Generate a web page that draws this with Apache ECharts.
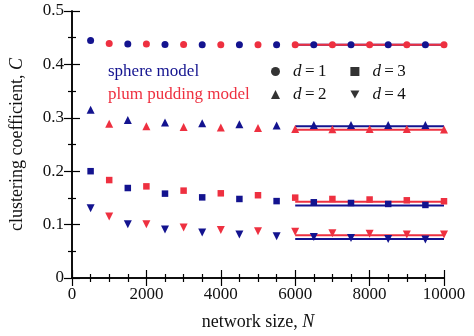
<!DOCTYPE html>
<html>
<head>
<meta charset="utf-8">
<script src="https://cdn.jsdelivr.net/npm/echarts@6/dist/echarts.min.js"></script>
<style>html,body{margin:0;padding:0;background:#fff}#c{width:474px;height:336px}</style>
</head>
<body>
<div id="c"></div>
<script>
// ---- data ----
var sphereN = [500, 1500, 2500, 3500, 4500, 5500, 6500, 7500, 8500, 9500];
var plumN = [1000, 2000, 3000, 4000, 5000, 6000, 7000, 8000, 9000, 10000];

var sphereD1 = [0.4446, 0.438, 0.4375, 0.4366, 0.4366, 0.4366, 0.4366, 0.4366, 0.4366, 0.4366];
var sphereD2 = [0.315, 0.296, 0.291, 0.290, 0.288, 0.2854, 0.2867, 0.2867, 0.2867, 0.2867];
var sphereD3 = [0.200, 0.1685, 0.158, 0.151, 0.148, 0.144, 0.1418, 0.1405, 0.1387, 0.1368];
var sphereD4 = [0.1306, 0.1007, 0.0908, 0.0852, 0.0815, 0.078, 0.077, 0.075, 0.0728, 0.072];

var plumD1 = [0.439, 0.438, 0.4371, 0.4366, 0.4366, 0.4366, 0.4366, 0.4366, 0.4366, 0.4366];
var plumD2 = [0.289, 0.284, 0.283, 0.2817, 0.281, 0.279, 0.2786, 0.279, 0.279, 0.278];
var plumD3 = [0.1834, 0.1716, 0.1636, 0.1586, 0.155, 0.1505, 0.148, 0.147, 0.1455, 0.1437];
var plumD4 = [0.115, 0.1007, 0.0945, 0.090, 0.0877, 0.0864, 0.084, 0.0828, 0.0815, 0.0815];

var fitRange = [6000, 10000];
var sphereFit = [0.4366, 0.284, 0.136, 0.0728];
var plumFit = [0.4366, 0.2774, 0.143, 0.080];

var dimNames = ['d=1', 'd=2', 'd=3', 'd=4'];
var modelNames = ['sphere model', 'plum pudding model'];
var xTickLabels = ['0', '2000', '4000', '6000', '8000', '10000'];
var yTickLabels = ['0', '0.1', '0.2', '0.3', '0.4', '0.5'];

// ---- styling ----
var BLUE = '#13138f';
var RED = '#ee3040';
var FONT = 'Liberation Serif';
var downTri = 'path://M0,0 L10,0 L5,8.66 Z';
var symbols = ['circle', 'triangle', 'rect', downTri];
var sizes = [7, 8, 6.5, 8];

function pairs(xs, ys) { return xs.map(function (x, i) { return [x, ys[i]]; }); }

var sphereSets = [sphereD1, sphereD2, sphereD3, sphereD4];
var plumSets = [plumD1, plumD2, plumD3, plumD4];

var series = [];
// fit lines
sphereFit.forEach(function (v) {
  series.push({ type: 'line', data: [[fitRange[0], v], [fitRange[1], v]], symbol: 'none',
    lineStyle: { color: BLUE, width: 2 }, silent: true, z: 2 });
});
plumFit.forEach(function (v) {
  series.push({ type: 'line', data: [[fitRange[0], v], [fitRange[1], v]], symbol: 'none',
    lineStyle: { color: RED, width: 2 }, silent: true, z: 3 });
});
// points
for (var k = 0; k < 4; k++) {
  series.push({ type: 'scatter', data: pairs(sphereN, sphereSets[k]), symbol: symbols[k],
    symbolSize: sizes[k], itemStyle: { color: BLUE, opacity: 1 }, z: 4 });
  series.push({ type: 'scatter', data: pairs(plumN, plumSets[k]), symbol: symbols[k],
    symbolSize: sizes[k], itemStyle: { color: RED, opacity: 1 }, z: 4 });
}
// legend dummies
for (var k2 = 0; k2 < 4; k2++) {
  series.push({ type: 'scatter', name: dimNames[k2], data: [], symbol: symbols[k2],
    itemStyle: { color: '#000' } });
}

var legendText = {
  fontFamily: FONT, fontSize: 17, color: '#111', padding: [0, 0, 0, 8],
  rich: { i: { fontFamily: FONT, fontSize: 17, fontStyle: 'italic', color: '#111' },
          n: { fontFamily: FONT, fontSize: 17, color: '#111' } }
};
function legendFmt(name) { return '{i|d}{n|\u2009=\u2009' + name.split('=')[1] + '}'; }

var axisCommon = {
  min: 0,
  axisLine: { lineStyle: { color: '#000', width: 1.5 } },
  axisTick: { inside: true, length: 8, lineStyle: { color: '#000', width: 1.2 } },
  minorTick: { show: true, splitNumber: 4, length: 4, lineStyle: { color: '#000', width: 1.2 } },
  splitLine: { show: false }
};

var option = {
  animation: false,
  backgroundColor: '#fff',
  grid: { left: 72, right: 30, top: 11, bottom: 57 },
  xAxis: [
    Object.assign({}, axisCommon, {
      type: 'value', max: 10000, interval: 2000, position: 'bottom',
      axisLabel: { fontFamily: FONT, fontSize: 17, color: '#111', margin: 8,
        formatter: function (v) { return xTickLabels[Math.round(v / 2000)]; } },
      name: 'network size, {i|N}', nameLocation: 'middle', nameGap: 35,
      nameTextStyle: { fontFamily: FONT, fontSize: 18, color: '#111',
        rich: { i: { fontFamily: FONT, fontSize: 18, fontStyle: 'italic', color: '#111' } } }
    }),
    Object.assign({}, axisCommon, {
      type: 'value', max: 10000, interval: 2000, position: 'top',
      axisLabel: { show: false }
    })
  ],
  yAxis: [
    Object.assign({}, axisCommon, {
      type: 'value', max: 0.5, interval: 0.1, position: 'left',
      minorTick: Object.assign({}, axisCommon.minorTick, { splitNumber: 2 }),
      axisLabel: { fontFamily: FONT, fontSize: 17, color: '#111', margin: 8,
        formatter: function (v) { return yTickLabels[Math.round(v * 10)]; } },
      name: 'clustering coefficient, {i|C}', nameLocation: 'middle', nameGap: 46,
      nameTextStyle: { fontFamily: FONT, fontSize: 18, color: '#111',
        rich: { i: { fontFamily: FONT, fontSize: 18, fontStyle: 'italic', color: '#111' } } }
    }),
    Object.assign({}, axisCommon, {
      type: 'value', max: 0.5, interval: 0.1, position: 'right',
      minorTick: Object.assign({}, axisCommon.minorTick, { splitNumber: 2 }),
      axisLabel: { show: false }
    })
  ],
  legend: [
    { data: ['d=1', 'd=3'], left: 266, top: 58, orient: 'horizontal', itemWidth: 9, itemHeight: 9,
      itemGap: 24, textStyle: legendText, formatter: legendFmt, selectedMode: false },
    { data: ['d=2', 'd=4'], left: 266, top: 81, orient: 'horizontal', itemWidth: 9, itemHeight: 9,
      itemGap: 24, textStyle: legendText, formatter: legendFmt, selectedMode: false }
  ],
  graphic: [
    { type: 'text', left: 108, top: 63, style: { text: modelNames[0], fill: BLUE, font: '17px "' + FONT + '"' } },
    { type: 'text', left: 108, top: 86, style: { text: modelNames[1], fill: RED, font: '17px "' + FONT + '"' } }
  ],
  series: series.map(function (s) { s.xAxisIndex = 0; s.yAxisIndex = 0; return s; })
};

var chart = echarts.init(document.getElementById('c'), null, { renderer: 'canvas' });
chart.setOption(option);
</script>
</body>
</html>
